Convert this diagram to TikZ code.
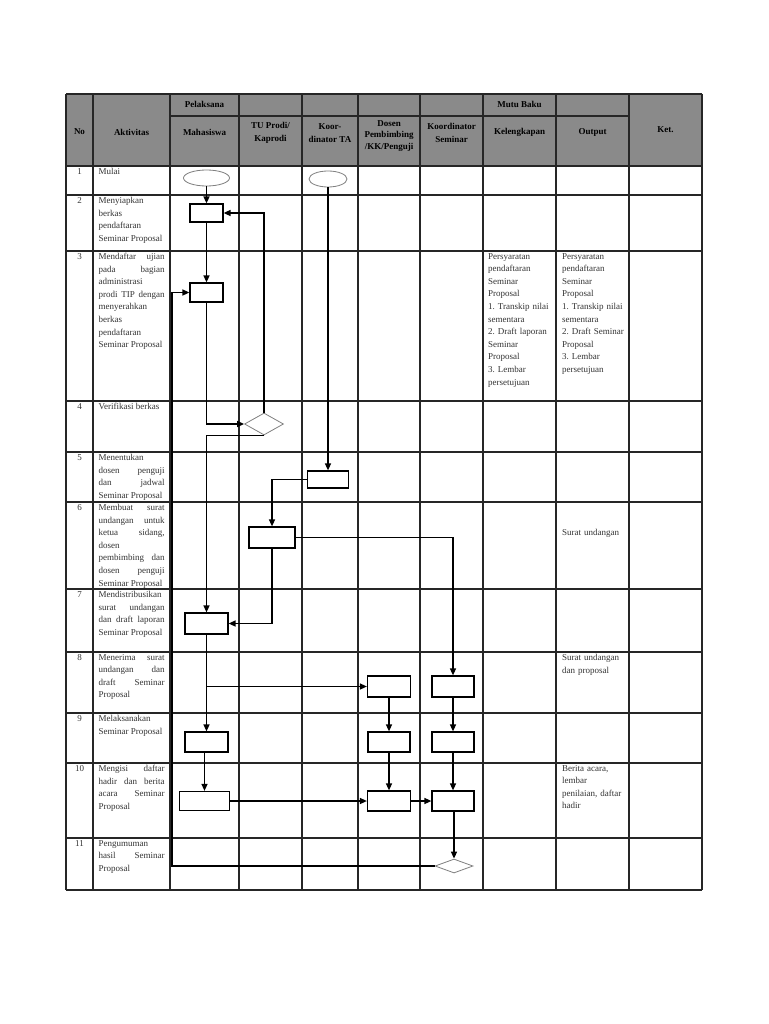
\documentclass[tikz,border=0pt]{standalone}
\usepackage{fontspec}
\setmainfont{Liberation Serif}
\usetikzlibrary{positioning, shapes.geometric, arrows.meta}
\definecolor{HeadGray}{HTML}{8A8A8A}
\definecolor{TextGray}{HTML}{333333}
\frenchspacing
\tikzstyle{grid} = [line width=1.3pt, color=black!85]
\tikzstyle{proc} = [draw, rectangle, line width=1.2pt, inner sep=0pt]
\tikzstyle{term} = [draw=gray, ellipse, line width=0.8pt, inner sep=0pt, minimum height=16pt]
\tikzstyle{cek} = [draw=gray, diamond, line width=0.8pt, inner sep=0pt]
\tikzstyle{flow} = [line width=1.4pt, -{Triangle[length=7pt,width=6pt]}]
\tikzstyle{head} = [align=center, inner sep=0pt, font=\fontsize{9}{13}\selectfont\bfseries]
\tikzstyle{nr} = [anchor=north, inner sep=0pt, text=TextGray, font=\fontsize{9}{12.6}\selectfont]
\tikzstyle{akt} = [anchor=north west, inner sep=0pt, text width=66pt, align=justify, text=TextGray, font=\fontsize{9}{12.6}\selectfont]
\tikzstyle{mutu} = [anchor=north west, inner sep=0pt, text width=64pt, align=left, text=TextGray, font=\fontsize{9}{12.6}\selectfont]

\begin{document}
\begin{tikzpicture}[x=1pt,y=-1pt]
	\fill[white] (0,0) rectangle (768,1024);
	\useasboundingbox (0,0) rectangle (768,1024);
	
	\fill[HeadGray] (66,94) rectangle (702,166);
	\foreach \y in {94,166,195,251,401,452,502,589,652,713,763,838,890}
		\draw[grid] (66,\y) -- (702,\y);
	\draw[grid] (170,116) -- (629,116);
	\foreach \x in {66,93,170,239,302,358,420,483,556,629,702}
		\draw[grid] (\x,94) -- (\x,890);
	
	\node[head] (hNo) at (79.5,132) {No};
	\node[head] (hAkt) at (131.5,132) {Aktivitas};
	\node[head] (hPel) at (204.5,104) {Pelaksana};
	\node[head] (hMut) at (519.5,104) {Mutu Baku};
	\node[head] (hMhs) at (204.5,132) {Mahasiswa};
	\node[head] (hTU) at (270.5,133) {TU Prodi/\\Kaprodi};
	\node[head] (hKoor) at (330,133) {Koor-\\dinator TA};
	\node[head,font=\fontsize{9}{11.5}\selectfont\bfseries] (hDos) at (389,136) {Dosen\\Pembimbing\\/KK/Penguji};
	\node[head] (hKS) at (451.5,133) {Koordinator\\Seminar};
	\node[head] (hKel) at (519.5,132) {Kelengkapan};
	\node[head] (hOut) at (592.5,132) {Output};
	\node[head] (hKet) at (665.5,130) {Ket.};
	
	\node[nr] (n1) at (79.5,168) {1};
	\node[nr] (n2) at (79.5,197) {2};
	\node[nr] (n3) at (79.5,253) {3};
	\node[nr] (n4) at (79.5,403) {4};
	\node[nr] (n5) at (79.5,454) {5};
	\node[nr] (n6) at (79.5,504) {6};
	\node[nr] (n7) at (79.5,591) {7};
	\node[nr] (n8) at (79.5,654) {8};
	\node[nr] (n9) at (79.5,715) {9};
	\node[nr] (n10) at (79.5,765) {10};
	\node[nr] (n11) at (79.5,840) {11};
	
	\node[akt] (a1) at (98.5,168) {Mulai};
	\node[akt] (a2) at (98.5,197) {Menyiapkan\linebreak berkas\linebreak pendaftaran\linebreak Seminar Proposal};
	\node[akt] (a3) at (98.5,253) {Mendaftar ujian\linebreak pada bagian\linebreak administrasi\linebreak prodi TIP dengan\linebreak menyerahkan\linebreak berkas\linebreak pendaftaran\linebreak Seminar Proposal};
	\node[akt] (a4) at (98.5,403) {Verifikasi berkas};
	\node[akt] (a5) at (98.5,454) {Menentukan\linebreak dosen penguji\linebreak dan jadwal\linebreak Seminar Proposal};
	\node[akt] (a6) at (98.5,504) {Membuat surat\linebreak undangan untuk\linebreak ketua sidang,\linebreak dosen\linebreak pembimbing dan\linebreak dosen penguji\linebreak Seminar Proposal};
	\node[akt] (a7) at (98.5,591) {Mendistribusikan\linebreak surat undangan\linebreak dan draft laporan\linebreak Seminar Proposal};
	\node[akt] (a8) at (98.5,654) {Menerima surat\linebreak undangan dan\linebreak draft Seminar\linebreak Proposal};
	\node[akt] (a9) at (98.5,715) {Melaksanakan\linebreak Seminar Proposal};
	\node[akt] (a10) at (98.5,765) {Mengisi daftar\linebreak hadir dan berita\linebreak acara Seminar\linebreak Proposal};
	\node[akt] (a11) at (98.5,840) {Pengumuman\linebreak hasil Seminar\linebreak Proposal};
	
	\node[mutu] (kel3) at (488,253) {Persyaratan\\pendaftaran\\Seminar\\Proposal\\1. Transkip nilai\\sementara\\2. Draft laporan\\Seminar\\Proposal\\3. Lembar\\persetujuan};
	\node[mutu] (out3) at (562,253) {Persyaratan\\pendaftaran\\Seminar\\Proposal\\1. Transkip nilai\\sementara\\2. Draft Seminar\\Proposal\\3. Lembar\\persetujuan};
	\node[mutu] (out6) at (562,529) {Surat undangan};
	\node[mutu] (out8) at (562,654) {Surat undangan\\dan proposal};
	\node[mutu] (out10) at (562,765) {Berita acara,\\lembar\\penilaian, daftar\\hadir};
	
	\node[term,minimum width=46pt] (m1) at (206.5,178) {};
	\node[proc,minimum width=33pt,minimum height=18pt] (m2) at (206.5,213) {};
	\node[proc,minimum width=33pt,minimum height=19pt] (m3) at (206.5,292.5) {};
	\node[cek,minimum width=39pt,minimum height=22pt] (d4) at (264,424) {};
	\node[term,minimum width=38pt] (k1) at (328,179) {};
	\node[proc,minimum width=41pt,minimum height=17pt] (k5) at (328,479.5) {};
	\node[proc,minimum width=46pt,minimum height=21pt] (t6) at (272,537.5) {};
	\node[proc,minimum width=43pt,minimum height=21pt] (m7) at (206.5,623.5) {};
	\node[proc,minimum width=43pt,minimum height=21pt] (d8) at (389,686.5) {};
	\node[proc,minimum width=42pt,minimum height=21pt] (s8) at (453,686.5) {};
	\node[proc,minimum width=43pt,minimum height=20pt] (m9) at (206.5,742) {};
	\node[proc,minimum width=42pt,minimum height=20pt] (d9) at (389,742) {};
	\node[proc,minimum width=42pt,minimum height=20pt] (s9) at (453,742) {};
	\node[proc,minimum width=50pt,minimum height=19pt] (m10) at (204.5,801) {};
	\node[proc,minimum width=43pt,minimum height=20pt] (d10) at (389,801) {};
	\node[proc,minimum width=42pt,minimum height=20pt] (s10) at (453,801) {};
	\node[cek,minimum width=38pt,minimum height=14pt] (s11) at (454,866) {};
	\coordinate (back) at (172,600);
	
	\draw[flow] (m1) -- (m2);
	\draw[flow] (m2) -- (m3);
	\draw[flow] (m3.south) |- (d4.west);
	\draw[flow] (d4.north) |- (m2.east);
	\draw[flow] (d4.south) -| (m7.north);
	\draw[flow] (k1) -- (k5);
	\draw[flow] (k5.west) -| (t6.north);
	\draw[flow] (t6.east) -| (s8.north);
	\draw[flow] (t6.south) |- (m7.east);
	\draw[flow] (m7) -- (m9);
	\draw[flow] (m7.south |- d8.west) -- (d8.west);
	\draw[flow] (d8) -- (d9);
	\draw[flow] (s8) -- (s9);
	\draw[flow] (m9.south -| m10.north) -- (m10.north);
	\draw[flow] (d9) -- (d10);
	\draw[flow] (s9) -- (s10);
	\draw[flow] (m10.east) -- (d10.west);
	\draw[flow] (d10.east) -- (s10.west);
	\draw[flow] (s10.south -| s11.north) -- (s11.north);
	\draw[flow] (s11.west) -| (back) |- (m3.west);
\end{tikzpicture}
\end{document}
